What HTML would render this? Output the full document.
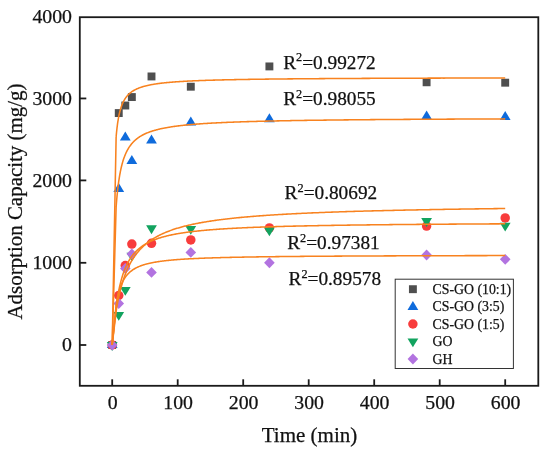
<!DOCTYPE html>
<html><head><meta charset="utf-8"><title>Adsorption kinetics</title>
<style>html,body{margin:0;padding:0;background:#fff}</style></head>
<body>
<svg width="550" height="455" viewBox="0 0 550 455" style="display:block">
<rect width="550" height="455" fill="#fff"/>
<rect x="108.25" y="341.05" width="7.9" height="7.9" fill="#4f4f4f"/>
<rect x="114.80" y="109.12" width="7.9" height="7.9" fill="#4f4f4f"/>
<rect x="121.35" y="101.56" width="7.9" height="7.9" fill="#4f4f4f"/>
<rect x="127.90" y="93.11" width="7.9" height="7.9" fill="#4f4f4f"/>
<rect x="147.55" y="72.50" width="7.9" height="7.9" fill="#4f4f4f"/>
<rect x="186.85" y="82.76" width="7.9" height="7.9" fill="#4f4f4f"/>
<rect x="265.45" y="62.48" width="7.9" height="7.9" fill="#4f4f4f"/>
<rect x="422.65" y="78.33" width="7.9" height="7.9" fill="#4f4f4f"/>
<rect x="501.25" y="78.74" width="7.9" height="7.9" fill="#4f4f4f"/>
<polygon points="112.20,339.02 117.60,348.02 106.80,348.02" fill="#0f6bdc"/>
<polygon points="118.75,183.03 124.15,192.03 113.35,192.03" fill="#0f6bdc"/>
<polygon points="125.30,131.56 130.70,140.56 119.90,140.56" fill="#0f6bdc"/>
<polygon points="131.85,154.95 137.25,163.95 126.45,163.95" fill="#0f6bdc"/>
<polygon points="151.50,134.59 156.90,143.59 146.10,143.59" fill="#0f6bdc"/>
<polygon points="190.80,116.45 196.20,125.45 185.40,125.45" fill="#0f6bdc"/>
<polygon points="269.40,113.25 274.80,122.25 264.00,122.25" fill="#0f6bdc"/>
<polygon points="426.60,110.62 432.00,119.62 421.20,119.62" fill="#0f6bdc"/>
<polygon points="505.20,111.03 510.60,120.03 499.80,120.03" fill="#0f6bdc"/>
<circle cx="112.20" cy="345.00" r="4.75" fill="#f83c3c"/>
<circle cx="118.75" cy="295.49" r="4.75" fill="#f83c3c"/>
<circle cx="125.30" cy="265.61" r="4.75" fill="#f83c3c"/>
<circle cx="131.85" cy="244.10" r="4.75" fill="#f83c3c"/>
<circle cx="151.50" cy="243.36" r="4.75" fill="#f83c3c"/>
<circle cx="190.80" cy="239.91" r="4.75" fill="#f83c3c"/>
<circle cx="269.40" cy="227.93" r="4.75" fill="#f83c3c"/>
<circle cx="426.60" cy="226.04" r="4.75" fill="#f83c3c"/>
<circle cx="505.20" cy="217.91" r="4.75" fill="#f83c3c"/>
<polygon points="112.20,350.88 117.60,342.08 106.80,342.08" fill="#12a35f"/>
<polygon points="118.75,320.83 124.15,312.03 113.35,312.03" fill="#12a35f"/>
<polygon points="125.30,295.71 130.70,286.91 119.90,286.91" fill="#12a35f"/>
<polygon points="131.85,261.55 137.25,252.75 126.45,252.75" fill="#12a35f"/>
<polygon points="151.50,234.13 156.90,225.33 146.10,225.33" fill="#12a35f"/>
<polygon points="190.80,234.71 196.20,225.91 185.40,225.91" fill="#12a35f"/>
<polygon points="269.40,236.18 274.80,227.38 264.00,227.38" fill="#12a35f"/>
<polygon points="426.60,226.91 432.00,218.11 421.20,218.11" fill="#12a35f"/>
<polygon points="505.20,231.50 510.60,222.70 499.80,222.70" fill="#12a35f"/>
<polygon points="112.20,339.55 117.50,345.00 112.20,350.45 106.90,345.00" fill="#b273e0"/>
<polygon points="118.75,298.09 124.05,303.54 118.75,308.99 113.45,303.54" fill="#b273e0"/>
<polygon points="125.30,263.03 130.60,268.48 125.30,273.93 120.00,268.48" fill="#b273e0"/>
<polygon points="131.85,248.58 137.15,254.03 131.85,259.48 126.55,254.03" fill="#b273e0"/>
<polygon points="151.50,266.97 156.80,272.42 151.50,277.87 146.20,272.42" fill="#b273e0"/>
<polygon points="190.80,246.94 196.10,252.39 190.80,257.84 185.50,252.39" fill="#b273e0"/>
<polygon points="269.40,257.37 274.70,262.82 269.40,268.27 264.10,262.82" fill="#b273e0"/>
<polygon points="426.60,249.57 431.90,255.02 426.60,260.47 421.30,255.02" fill="#b273e0"/>
<polygon points="505.20,253.92 510.50,259.37 505.20,264.82 499.90,259.37" fill="#b273e0"/>
<polyline points="112.20,345.00 116.13,136.86 116.13,136.85 116.13,136.82 116.14,136.76 116.15,136.68 116.16,136.56 116.17,136.41 116.18,136.24 116.20,136.03 116.22,135.79 116.25,135.52 116.27,135.21 116.30,134.88 116.34,134.51 116.37,134.11 116.41,133.69 116.46,133.23 116.50,132.75 116.55,132.24 116.61,131.71 116.66,131.16 116.72,130.58 116.79,129.98 116.86,129.36 116.93,128.73 117.00,128.07 117.08,127.41 117.16,126.73 117.25,126.04 117.34,125.34 117.43,124.63 117.53,123.91 117.63,123.19 117.74,122.46 117.85,121.73 117.96,121.00 118.08,120.27 118.20,119.54 118.32,118.81 118.45,118.08 118.58,117.36 118.72,116.64 118.86,115.92 119.01,115.21 119.16,114.51 119.31,113.82 119.47,113.13 119.63,112.45 119.80,111.78 119.97,111.12 120.14,110.46 120.32,109.82 120.50,109.19 120.69,108.57 120.88,107.95 121.08,107.35 121.28,106.76 121.48,106.18 121.69,105.61 121.90,105.05 122.12,104.50 122.34,103.96 122.57,103.44 122.80,102.92 123.03,102.42 123.27,101.92 123.52,101.44 123.77,100.96 124.02,100.50 124.28,100.04 124.54,99.60 124.80,99.16 125.08,98.74 125.35,98.32 125.63,97.91 125.92,97.52 126.21,97.13 126.50,96.75 126.80,96.38 127.10,96.01 127.41,95.66 127.72,95.31 128.04,94.97 128.36,94.64 128.69,94.32 129.02,94.00 129.35,93.69 129.70,93.39 130.04,93.10 130.39,92.81 130.75,92.53 131.11,92.25 131.47,91.98 131.84,91.72 132.21,91.46 132.59,91.21 132.98,90.97 133.36,90.73 133.76,90.49 134.16,90.26 134.56,90.04 134.97,89.82 135.38,89.60 135.80,89.39 136.22,89.19 136.65,88.99 137.08,88.79 137.52,88.60 137.96,88.41 138.41,88.23 138.86,88.05 139.31,87.87 139.78,87.70 140.24,87.53 140.72,87.37 141.19,87.21 141.67,87.05 142.16,86.89 142.65,86.74 143.15,86.60 143.65,86.45 144.16,86.31 144.67,86.17 145.19,86.03 145.71,85.90 146.24,85.77 146.77,85.64 147.31,85.52 147.85,85.39 148.40,85.27 148.95,85.16 149.51,85.04 150.07,84.93 150.64,84.81 151.22,84.71 151.79,84.60 152.38,84.49 152.97,84.39 153.56,84.29 154.16,84.19 154.76,84.10 155.37,84.00 155.99,83.91 156.61,83.82 157.23,83.73 157.87,83.64 158.50,83.55 159.14,83.47 159.79,83.38 160.44,83.30 161.10,83.22 161.76,83.14 162.43,83.07 163.10,82.99 163.78,82.91 164.46,82.84 165.15,82.77 165.84,82.70 166.54,82.63 167.25,82.56 167.96,82.49 168.67,82.43 169.39,82.36 170.12,82.30 170.85,82.24 171.59,82.18 172.33,82.12 173.08,82.06 173.83,82.00 174.59,81.94 175.35,81.88 176.12,81.83 176.90,81.77 177.68,81.72 178.46,81.67 179.25,81.62 180.05,81.56 180.85,81.51 181.66,81.46 182.47,81.42 183.29,81.37 184.11,81.32 184.94,81.27 185.77,81.23 186.61,81.18 187.46,81.14 188.31,81.10 189.17,81.05 190.03,81.01 190.90,80.97 191.77,80.93 192.65,80.89 193.53,80.85 194.42,80.81 195.32,80.77 196.22,80.73 197.13,80.70 198.04,80.66 198.95,80.62 199.88,80.59 200.81,80.55 201.74,80.52 202.68,80.48 203.63,80.45 204.58,80.42 205.53,80.38 206.50,80.35 207.46,80.32 208.44,80.29 209.42,80.26 210.40,80.23 211.39,80.20 212.39,80.17 213.39,80.14 214.40,80.11 215.41,80.08 216.43,80.05 217.45,80.03 218.48,80.00 219.52,79.97 220.56,79.95 221.61,79.92 222.66,79.89 223.72,79.87 224.78,79.84 225.85,79.82 226.93,79.79 228.01,79.77 229.10,79.75 230.19,79.72 231.29,79.70 232.39,79.68 233.50,79.65 234.62,79.63 235.74,79.61 236.87,79.59 238.00,79.57 239.14,79.55 240.29,79.52 241.44,79.50 242.59,79.48 243.75,79.46 244.92,79.44 246.10,79.42 247.28,79.41 248.46,79.39 249.65,79.37 250.85,79.35 252.05,79.33 253.26,79.31 254.48,79.29 255.70,79.28 256.92,79.26 258.15,79.24 259.39,79.22 260.64,79.21 261.89,79.19 263.14,79.17 264.40,79.16 265.67,79.14 266.94,79.13 268.22,79.11 269.51,79.09 270.80,79.08 272.09,79.06 273.40,79.05 274.71,79.03 276.02,79.02 277.34,79.00 278.67,78.99 280.00,78.98 281.34,78.96 282.68,78.95 284.03,78.93 285.39,78.92 286.75,78.91 288.12,78.89 289.49,78.88 290.87,78.87 292.26,78.86 293.65,78.84 295.05,78.83 296.45,78.82 297.86,78.81 299.28,78.79 300.70,78.78 302.12,78.77 303.56,78.76 305.00,78.75 306.44,78.73 307.90,78.72 309.35,78.71 310.82,78.70 312.29,78.69 313.76,78.68 315.25,78.67 316.73,78.66 318.23,78.65 319.73,78.64 321.23,78.63 322.75,78.62 324.26,78.61 325.79,78.59 327.32,78.59 328.85,78.58 330.40,78.57 331.95,78.56 333.50,78.55 335.06,78.54 336.63,78.53 338.20,78.52 339.78,78.51 341.36,78.50 342.96,78.49 344.55,78.48 346.16,78.47 347.77,78.46 349.38,78.46 351.00,78.45 352.63,78.44 354.27,78.43 355.91,78.42 357.55,78.41 359.21,78.41 360.86,78.40 362.53,78.39 364.20,78.38 365.88,78.37 367.56,78.37 369.25,78.36 370.95,78.35 372.65,78.34 374.36,78.34 376.07,78.33 377.79,78.32 379.52,78.31 381.25,78.31 382.99,78.30 384.73,78.29 386.49,78.29 388.24,78.28 390.01,78.27 391.78,78.26 393.55,78.26 395.34,78.25 397.12,78.24 398.92,78.24 400.72,78.23 402.53,78.23 404.34,78.22 406.16,78.21 407.99,78.21 409.82,78.20 411.66,78.19 413.50,78.19 415.36,78.18 417.21,78.18 419.08,78.17 420.95,78.16 422.82,78.16 424.71,78.15 426.59,78.15 428.49,78.14 430.39,78.13 432.30,78.13 434.21,78.12 436.13,78.12 438.06,78.11 439.99,78.11 441.93,78.10 443.88,78.10 445.83,78.09 447.79,78.09 449.75,78.08 451.72,78.08 453.70,78.07 455.68,78.07 457.67,78.06 459.67,78.06 461.67,78.05 463.68,78.05 465.70,78.04 467.72,78.04 469.75,78.03 471.78,78.03 473.82,78.02 475.87,78.02 477.92,78.01 479.98,78.01 482.05,78.00 484.12,78.00 486.20,77.99 488.29,77.99 490.38,77.99 492.48,77.98 494.58,77.98 496.69,77.97 498.81,77.97 500.93,77.96 503.06,77.96 505.20,77.96" fill="none" stroke="#f8821f" stroke-width="1.55" stroke-linejoin="round"/>
<polyline points="112.20,345.00 116.13,207.07 116.13,207.06 116.13,207.03 116.14,206.96 116.15,206.86 116.16,206.72 116.17,206.55 116.18,206.34 116.20,206.10 116.22,205.81 116.25,205.49 116.27,205.13 116.30,204.73 116.34,204.30 116.37,203.82 116.41,203.31 116.46,202.77 116.50,202.19 116.55,201.57 116.61,200.93 116.66,200.25 116.72,199.54 116.79,198.80 116.86,198.04 116.93,197.25 117.00,196.44 117.08,195.60 117.16,194.74 117.25,193.87 117.34,192.97 117.43,192.07 117.53,191.14 117.63,190.21 117.74,189.26 117.85,188.30 117.96,187.34 118.08,186.37 118.20,185.39 118.32,184.42 118.45,183.43 118.58,182.45 118.72,181.47 118.86,180.49 119.01,179.51 119.16,178.54 119.31,177.57 119.47,176.60 119.63,175.64 119.80,174.69 119.97,173.75 120.14,172.81 120.32,171.88 120.50,170.97 120.69,170.06 120.88,169.16 121.08,168.28 121.28,167.40 121.48,166.54 121.69,165.69 121.90,164.85 122.12,164.02 122.34,163.21 122.57,162.41 122.80,161.62 123.03,160.84 123.27,160.08 123.52,159.33 123.77,158.59 124.02,157.87 124.28,157.15 124.54,156.45 124.80,155.77 125.08,155.09 125.35,154.43 125.63,153.78 125.92,153.15 126.21,152.52 126.50,151.91 126.80,151.31 127.10,150.72 127.41,150.15 127.72,149.58 128.04,149.02 128.36,148.48 128.69,147.95 129.02,147.43 129.35,146.92 129.70,146.41 130.04,145.92 130.39,145.44 130.75,144.97 131.11,144.51 131.47,144.06 131.84,143.61 132.21,143.18 132.59,142.75 132.98,142.34 133.36,141.93 133.76,141.53 134.16,141.14 134.56,140.75 134.97,140.38 135.38,140.01 135.80,139.65 136.22,139.30 136.65,138.95 137.08,138.61 137.52,138.28 137.96,137.95 138.41,137.63 138.86,137.32 139.31,137.01 139.78,136.71 140.24,136.42 140.72,136.13 141.19,135.85 141.67,135.57 142.16,135.30 142.65,135.03 143.15,134.77 143.65,134.51 144.16,134.26 144.67,134.02 145.19,133.77 145.71,133.54 146.24,133.31 146.77,133.08 147.31,132.85 147.85,132.64 148.40,132.42 148.95,132.21 149.51,132.00 150.07,131.80 150.64,131.60 151.22,131.40 151.79,131.21 152.38,131.02 152.97,130.84 153.56,130.66 154.16,130.48 154.76,130.30 155.37,130.13 155.99,129.96 156.61,129.80 157.23,129.63 157.87,129.48 158.50,129.32 159.14,129.16 159.79,129.01 160.44,128.86 161.10,128.72 161.76,128.57 162.43,128.43 163.10,128.29 163.78,128.16 164.46,128.02 165.15,127.89 165.84,127.76 166.54,127.64 167.25,127.51 167.96,127.39 168.67,127.27 169.39,127.15 170.12,127.03 170.85,126.92 171.59,126.80 172.33,126.69 173.08,126.58 173.83,126.48 174.59,126.37 175.35,126.27 176.12,126.16 176.90,126.06 177.68,125.96 178.46,125.87 179.25,125.77 180.05,125.68 180.85,125.58 181.66,125.49 182.47,125.40 183.29,125.31 184.11,125.23 184.94,125.14 185.77,125.06 186.61,124.97 187.46,124.89 188.31,124.81 189.17,124.73 190.03,124.65 190.90,124.57 191.77,124.50 192.65,124.42 193.53,124.35 194.42,124.28 195.32,124.20 196.22,124.13 197.13,124.06 198.04,124.00 198.95,123.93 199.88,123.86 200.81,123.80 201.74,123.73 202.68,123.67 203.63,123.60 204.58,123.54 205.53,123.48 206.50,123.42 207.46,123.36 208.44,123.30 209.42,123.25 210.40,123.19 211.39,123.13 212.39,123.08 213.39,123.02 214.40,122.97 215.41,122.92 216.43,122.86 217.45,122.81 218.48,122.76 219.52,122.71 220.56,122.66 221.61,122.61 222.66,122.56 223.72,122.52 224.78,122.47 225.85,122.42 226.93,122.38 228.01,122.33 229.10,122.29 230.19,122.24 231.29,122.20 232.39,122.15 233.50,122.11 234.62,122.07 235.74,122.03 236.87,121.99 238.00,121.95 239.14,121.91 240.29,121.87 241.44,121.83 242.59,121.79 243.75,121.75 244.92,121.72 246.10,121.68 247.28,121.64 248.46,121.61 249.65,121.57 250.85,121.54 252.05,121.50 253.26,121.47 254.48,121.43 255.70,121.40 256.92,121.37 258.15,121.33 259.39,121.30 260.64,121.27 261.89,121.24 263.14,121.21 264.40,121.18 265.67,121.14 266.94,121.11 268.22,121.08 269.51,121.06 270.80,121.03 272.09,121.00 273.40,120.97 274.71,120.94 276.02,120.91 277.34,120.89 278.67,120.86 280.00,120.83 281.34,120.80 282.68,120.78 284.03,120.75 285.39,120.73 286.75,120.70 288.12,120.68 289.49,120.65 290.87,120.63 292.26,120.60 293.65,120.58 295.05,120.55 296.45,120.53 297.86,120.51 299.28,120.48 300.70,120.46 302.12,120.44 303.56,120.42 305.00,120.39 306.44,120.37 307.90,120.35 309.35,120.33 310.82,120.31 312.29,120.29 313.76,120.27 315.25,120.25 316.73,120.23 318.23,120.21 319.73,120.19 321.23,120.17 322.75,120.15 324.26,120.13 325.79,120.11 327.32,120.09 328.85,120.07 330.40,120.05 331.95,120.03 333.50,120.02 335.06,120.00 336.63,119.98 338.20,119.96 339.78,119.94 341.36,119.93 342.96,119.91 344.55,119.89 346.16,119.88 347.77,119.86 349.38,119.84 351.00,119.83 352.63,119.81 354.27,119.80 355.91,119.78 357.55,119.76 359.21,119.75 360.86,119.73 362.53,119.72 364.20,119.70 365.88,119.69 367.56,119.67 369.25,119.66 370.95,119.64 372.65,119.63 374.36,119.61 376.07,119.60 377.79,119.59 379.52,119.57 381.25,119.56 382.99,119.55 384.73,119.53 386.49,119.52 388.24,119.51 390.01,119.49 391.78,119.48 393.55,119.47 395.34,119.45 397.12,119.44 398.92,119.43 400.72,119.42 402.53,119.40 404.34,119.39 406.16,119.38 407.99,119.37 409.82,119.36 411.66,119.34 413.50,119.33 415.36,119.32 417.21,119.31 419.08,119.30 420.95,119.29 422.82,119.28 424.71,119.26 426.59,119.25 428.49,119.24 430.39,119.23 432.30,119.22 434.21,119.21 436.13,119.20 438.06,119.19 439.99,119.18 441.93,119.17 443.88,119.16 445.83,119.15 447.79,119.14 449.75,119.13 451.72,119.12 453.70,119.11 455.68,119.10 457.67,119.09 459.67,119.08 461.67,119.07 463.68,119.06 465.70,119.05 467.72,119.04 469.75,119.03 471.78,119.02 473.82,119.02 475.87,119.01 477.92,119.00 479.98,118.99 482.05,118.98 484.12,118.97 486.20,118.96 488.29,118.95 490.38,118.95 492.48,118.94 494.58,118.93 496.69,118.92 498.81,118.91 500.93,118.90 503.06,118.90 505.20,118.89" fill="none" stroke="#f8821f" stroke-width="1.55" stroke-linejoin="round"/>
<polyline points="112.20,345.00 116.13,311.36 116.13,311.36 116.13,311.34 116.14,311.31 116.15,311.26 116.16,311.20 116.17,311.12 116.18,311.03 116.20,310.91 116.22,310.78 116.25,310.63 116.27,310.46 116.30,310.28 116.34,310.07 116.37,309.85 116.41,309.60 116.46,309.34 116.50,309.06 116.55,308.76 116.61,308.44 116.66,308.10 116.72,307.74 116.79,307.37 116.86,306.97 116.93,306.56 117.00,306.14 117.08,305.69 117.16,305.23 117.25,304.75 117.34,304.26 117.43,303.75 117.53,303.23 117.63,302.69 117.74,302.14 117.85,301.57 117.96,300.99 118.08,300.40 118.20,299.80 118.32,299.18 118.45,298.56 118.58,297.92 118.72,297.27 118.86,296.61 119.01,295.95 119.16,295.27 119.31,294.59 119.47,293.90 119.63,293.20 119.80,292.50 119.97,291.79 120.14,291.08 120.32,290.36 120.50,289.63 120.69,288.90 120.88,288.17 121.08,287.44 121.28,286.70 121.48,285.96 121.69,285.22 121.90,284.48 122.12,283.73 122.34,282.99 122.57,282.25 122.80,281.50 123.03,280.76 123.27,280.02 123.52,279.27 123.77,278.53 124.02,277.80 124.28,277.06 124.54,276.33 124.80,275.60 125.08,274.87 125.35,274.14 125.63,273.42 125.92,272.70 126.21,271.99 126.50,271.28 126.80,270.57 127.10,269.87 127.41,269.18 127.72,268.48 128.04,267.80 128.36,267.11 128.69,266.44 129.02,265.77 129.35,265.10 129.70,264.44 130.04,263.78 130.39,263.13 130.75,262.49 131.11,261.85 131.47,261.22 131.84,260.59 132.21,259.97 132.59,259.36 132.98,258.75 133.36,258.15 133.76,257.55 134.16,256.96 134.56,256.37 134.97,255.80 135.38,255.22 135.80,254.66 136.22,254.10 136.65,253.54 137.08,253.00 137.52,252.46 137.96,251.92 138.41,251.39 138.86,250.87 139.31,250.35 139.78,249.84 140.24,249.34 140.72,248.84 141.19,248.34 141.67,247.85 142.16,247.37 142.65,246.90 143.15,246.43 143.65,245.96 144.16,245.50 144.67,245.05 145.19,244.60 145.71,244.16 146.24,243.72 146.77,243.29 147.31,242.87 147.85,242.45 148.40,242.03 148.95,241.62 149.51,241.22 150.07,240.82 150.64,240.42 151.22,240.03 151.79,239.65 152.38,239.26 152.97,238.89 153.56,238.52 154.16,238.15 154.76,237.79 155.37,237.43 155.99,237.08 156.61,236.73 157.23,236.39 157.87,236.05 158.50,235.72 159.14,235.39 159.79,235.06 160.44,234.74 161.10,234.42 161.76,234.11 162.43,233.80 163.10,233.49 163.78,233.19 164.46,232.89 165.15,232.60 165.84,232.31 166.54,232.02 167.25,231.74 167.96,231.46 168.67,231.18 169.39,230.91 170.12,230.64 170.85,230.37 171.59,230.11 172.33,229.85 173.08,229.60 173.83,229.34 174.59,229.09 175.35,228.85 176.12,228.60 176.90,228.36 177.68,228.13 178.46,227.89 179.25,227.66 180.05,227.43 180.85,227.21 181.66,226.98 182.47,226.76 183.29,226.55 184.11,226.33 184.94,226.12 185.77,225.91 186.61,225.70 187.46,225.50 188.31,225.30 189.17,225.10 190.03,224.90 190.90,224.70 191.77,224.51 192.65,224.32 193.53,224.13 194.42,223.95 195.32,223.77 196.22,223.58 197.13,223.41 198.04,223.23 198.95,223.05 199.88,222.88 200.81,222.71 201.74,222.54 202.68,222.38 203.63,222.21 204.58,222.05 205.53,221.89 206.50,221.73 207.46,221.57 208.44,221.42 209.42,221.26 210.40,221.11 211.39,220.96 212.39,220.82 213.39,220.67 214.40,220.52 215.41,220.38 216.43,220.24 217.45,220.10 218.48,219.96 219.52,219.83 220.56,219.69 221.61,219.56 222.66,219.42 223.72,219.29 224.78,219.17 225.85,219.04 226.93,218.91 228.01,218.79 229.10,218.66 230.19,218.54 231.29,218.42 232.39,218.30 233.50,218.18 234.62,218.07 235.74,217.95 236.87,217.84 238.00,217.72 239.14,217.61 240.29,217.50 241.44,217.39 242.59,217.28 243.75,217.18 244.92,217.07 246.10,216.97 247.28,216.86 248.46,216.76 249.65,216.66 250.85,216.56 252.05,216.46 253.26,216.36 254.48,216.26 255.70,216.17 256.92,216.07 258.15,215.98 259.39,215.88 260.64,215.79 261.89,215.70 263.14,215.61 264.40,215.52 265.67,215.43 266.94,215.34 268.22,215.26 269.51,215.17 270.80,215.09 272.09,215.00 273.40,214.92 274.71,214.84 276.02,214.76 277.34,214.67 278.67,214.59 280.00,214.52 281.34,214.44 282.68,214.36 284.03,214.28 285.39,214.21 286.75,214.13 288.12,214.06 289.49,213.98 290.87,213.91 292.26,213.84 293.65,213.77 295.05,213.69 296.45,213.62 297.86,213.55 299.28,213.49 300.70,213.42 302.12,213.35 303.56,213.28 305.00,213.22 306.44,213.15 307.90,213.09 309.35,213.02 310.82,212.96 312.29,212.89 313.76,212.83 315.25,212.77 316.73,212.71 318.23,212.65 319.73,212.59 321.23,212.53 322.75,212.47 324.26,212.41 325.79,212.35 327.32,212.29 328.85,212.23 330.40,212.18 331.95,212.12 333.50,212.07 335.06,212.01 336.63,211.96 338.20,211.90 339.78,211.85 341.36,211.80 342.96,211.74 344.55,211.69 346.16,211.64 347.77,211.59 349.38,211.54 351.00,211.49 352.63,211.44 354.27,211.39 355.91,211.34 357.55,211.29 359.21,211.24 360.86,211.19 362.53,211.15 364.20,211.10 365.88,211.05 367.56,211.01 369.25,210.96 370.95,210.92 372.65,210.87 374.36,210.83 376.07,210.78 377.79,210.74 379.52,210.69 381.25,210.65 382.99,210.61 384.73,210.57 386.49,210.52 388.24,210.48 390.01,210.44 391.78,210.40 393.55,210.36 395.34,210.32 397.12,210.28 398.92,210.24 400.72,210.20 402.53,210.16 404.34,210.12 406.16,210.08 407.99,210.05 409.82,210.01 411.66,209.97 413.50,209.93 415.36,209.90 417.21,209.86 419.08,209.83 420.95,209.79 422.82,209.75 424.71,209.72 426.59,209.68 428.49,209.65 430.39,209.61 432.30,209.58 434.21,209.55 436.13,209.51 438.06,209.48 439.99,209.45 441.93,209.41 443.88,209.38 445.83,209.35 447.79,209.32 449.75,209.28 451.72,209.25 453.70,209.22 455.68,209.19 457.67,209.16 459.67,209.13 461.67,209.10 463.68,209.07 465.70,209.04 467.72,209.01 469.75,208.98 471.78,208.95 473.82,208.92 475.87,208.89 477.92,208.86 479.98,208.83 482.05,208.81 484.12,208.78 486.20,208.75 488.29,208.72 490.38,208.69 492.48,208.67 494.58,208.64 496.69,208.61 498.81,208.59 500.93,208.56 503.06,208.53 505.20,208.51" fill="none" stroke="#f8821f" stroke-width="1.55" stroke-linejoin="round"/>
<polyline points="112.20,345.00 116.13,306.47 116.13,306.46 116.13,306.44 116.14,306.41 116.15,306.36 116.16,306.28 116.17,306.19 116.18,306.08 116.20,305.95 116.22,305.80 116.25,305.63 116.27,305.44 116.30,305.22 116.34,304.99 116.37,304.73 116.41,304.45 116.46,304.15 116.50,303.83 116.55,303.49 116.61,303.12 116.66,302.74 116.72,302.34 116.79,301.91 116.86,301.47 116.93,301.01 117.00,300.52 117.08,300.03 117.16,299.51 117.25,298.98 117.34,298.43 117.43,297.86 117.53,297.28 117.63,296.69 117.74,296.08 117.85,295.46 117.96,294.82 118.08,294.18 118.20,293.52 118.32,292.85 118.45,292.18 118.58,291.49 118.72,290.80 118.86,290.10 119.01,289.39 119.16,288.67 119.31,287.95 119.47,287.23 119.63,286.50 119.80,285.77 119.97,285.04 120.14,284.30 120.32,283.56 120.50,282.82 120.69,282.09 120.88,281.35 121.08,280.61 121.28,279.87 121.48,279.14 121.69,278.40 121.90,277.67 122.12,276.94 122.34,276.22 122.57,275.50 122.80,274.78 123.03,274.07 123.27,273.36 123.52,272.66 123.77,271.96 124.02,271.27 124.28,270.59 124.54,269.91 124.80,269.23 125.08,268.57 125.35,267.91 125.63,267.26 125.92,266.61 126.21,265.97 126.50,265.34 126.80,264.72 127.10,264.10 127.41,263.49 127.72,262.89 128.04,262.30 128.36,261.71 128.69,261.13 129.02,260.56 129.35,260.00 129.70,259.44 130.04,258.90 130.39,258.36 130.75,257.82 131.11,257.30 131.47,256.78 131.84,256.28 132.21,255.77 132.59,255.28 132.98,254.79 133.36,254.32 133.76,253.84 134.16,253.38 134.56,252.92 134.97,252.47 135.38,252.03 135.80,251.60 136.22,251.17 136.65,250.75 137.08,250.33 137.52,249.92 137.96,249.52 138.41,249.13 138.86,248.74 139.31,248.36 139.78,247.98 140.24,247.61 140.72,247.25 141.19,246.89 141.67,246.54 142.16,246.19 142.65,245.85 143.15,245.52 143.65,245.19 144.16,244.87 144.67,244.55 145.19,244.24 145.71,243.93 146.24,243.63 146.77,243.33 147.31,243.04 147.85,242.75 148.40,242.47 148.95,242.19 149.51,241.92 150.07,241.65 150.64,241.38 151.22,241.12 151.79,240.87 152.38,240.62 152.97,240.37 153.56,240.13 154.16,239.89 154.76,239.65 155.37,239.42 155.99,239.19 156.61,238.97 157.23,238.75 157.87,238.54 158.50,238.32 159.14,238.11 159.79,237.91 160.44,237.70 161.10,237.51 161.76,237.31 162.43,237.12 163.10,236.93 163.78,236.74 164.46,236.56 165.15,236.38 165.84,236.20 166.54,236.02 167.25,235.85 167.96,235.68 168.67,235.52 169.39,235.35 170.12,235.19 170.85,235.03 171.59,234.88 172.33,234.72 173.08,234.57 173.83,234.42 174.59,234.27 175.35,234.13 176.12,233.99 176.90,233.85 177.68,233.71 178.46,233.57 179.25,233.44 180.05,233.31 180.85,233.18 181.66,233.05 182.47,232.92 183.29,232.80 184.11,232.68 184.94,232.56 185.77,232.44 186.61,232.32 187.46,232.21 188.31,232.09 189.17,231.98 190.03,231.87 190.90,231.76 191.77,231.66 192.65,231.55 193.53,231.45 194.42,231.35 195.32,231.24 196.22,231.15 197.13,231.05 198.04,230.95 198.95,230.86 199.88,230.76 200.81,230.67 201.74,230.58 202.68,230.49 203.63,230.40 204.58,230.31 205.53,230.23 206.50,230.14 207.46,230.06 208.44,229.98 209.42,229.89 210.40,229.81 211.39,229.74 212.39,229.66 213.39,229.58 214.40,229.50 215.41,229.43 216.43,229.36 217.45,229.28 218.48,229.21 219.52,229.14 220.56,229.07 221.61,229.00 222.66,228.93 223.72,228.86 224.78,228.80 225.85,228.73 226.93,228.67 228.01,228.60 229.10,228.54 230.19,228.48 231.29,228.42 232.39,228.36 233.50,228.30 234.62,228.24 235.74,228.18 236.87,228.12 238.00,228.07 239.14,228.01 240.29,227.95 241.44,227.90 242.59,227.85 243.75,227.79 244.92,227.74 246.10,227.69 247.28,227.64 248.46,227.59 249.65,227.53 250.85,227.49 252.05,227.44 253.26,227.39 254.48,227.34 255.70,227.29 256.92,227.25 258.15,227.20 259.39,227.16 260.64,227.11 261.89,227.07 263.14,227.02 264.40,226.98 265.67,226.94 266.94,226.89 268.22,226.85 269.51,226.81 270.80,226.77 272.09,226.73 273.40,226.69 274.71,226.65 276.02,226.61 277.34,226.57 278.67,226.53 280.00,226.50 281.34,226.46 282.68,226.42 284.03,226.39 285.39,226.35 286.75,226.31 288.12,226.28 289.49,226.24 290.87,226.21 292.26,226.18 293.65,226.14 295.05,226.11 296.45,226.08 297.86,226.04 299.28,226.01 300.70,225.98 302.12,225.95 303.56,225.92 305.00,225.89 306.44,225.86 307.90,225.83 309.35,225.80 310.82,225.77 312.29,225.74 313.76,225.71 315.25,225.68 316.73,225.65 318.23,225.62 319.73,225.60 321.23,225.57 322.75,225.54 324.26,225.51 325.79,225.49 327.32,225.46 328.85,225.44 330.40,225.41 331.95,225.38 333.50,225.36 335.06,225.33 336.63,225.31 338.20,225.29 339.78,225.26 341.36,225.24 342.96,225.21 344.55,225.19 346.16,225.17 347.77,225.14 349.38,225.12 351.00,225.10 352.63,225.08 354.27,225.05 355.91,225.03 357.55,225.01 359.21,224.99 360.86,224.97 362.53,224.95 364.20,224.93 365.88,224.91 367.56,224.89 369.25,224.86 370.95,224.84 372.65,224.82 374.36,224.81 376.07,224.79 377.79,224.77 379.52,224.75 381.25,224.73 382.99,224.71 384.73,224.69 386.49,224.67 388.24,224.65 390.01,224.64 391.78,224.62 393.55,224.60 395.34,224.58 397.12,224.57 398.92,224.55 400.72,224.53 402.53,224.52 404.34,224.50 406.16,224.48 407.99,224.47 409.82,224.45 411.66,224.43 413.50,224.42 415.36,224.40 417.21,224.39 419.08,224.37 420.95,224.35 422.82,224.34 424.71,224.32 426.59,224.31 428.49,224.29 430.39,224.28 432.30,224.27 434.21,224.25 436.13,224.24 438.06,224.22 439.99,224.21 441.93,224.19 443.88,224.18 445.83,224.17 447.79,224.15 449.75,224.14 451.72,224.13 453.70,224.11 455.68,224.10 457.67,224.09 459.67,224.07 461.67,224.06 463.68,224.05 465.70,224.04 467.72,224.02 469.75,224.01 471.78,224.00 473.82,223.99 475.87,223.97 477.92,223.96 479.98,223.95 482.05,223.94 484.12,223.93 486.20,223.92 488.29,223.90 490.38,223.89 492.48,223.88 494.58,223.87 496.69,223.86 498.81,223.85 500.93,223.84 503.06,223.83 505.20,223.82" fill="none" stroke="#f8821f" stroke-width="1.55" stroke-linejoin="round"/>
<polyline points="112.20,345.00 116.13,305.13 116.13,305.13 116.13,305.11 116.14,305.08 116.15,305.04 116.16,304.98 116.17,304.90 116.18,304.80 116.20,304.69 116.22,304.56 116.25,304.41 116.27,304.24 116.30,304.06 116.34,303.86 116.37,303.64 116.41,303.40 116.46,303.15 116.50,302.87 116.55,302.58 116.61,302.28 116.66,301.96 116.72,301.62 116.79,301.27 116.86,300.90 116.93,300.52 117.00,300.12 117.08,299.71 117.16,299.29 117.25,298.86 117.34,298.42 117.43,297.97 117.53,297.50 117.63,297.03 117.74,296.55 117.85,296.07 117.96,295.57 118.08,295.07 118.20,294.57 118.32,294.06 118.45,293.55 118.58,293.03 118.72,292.51 118.86,291.99 119.01,291.46 119.16,290.94 119.31,290.42 119.47,289.89 119.63,289.37 119.80,288.85 119.97,288.32 120.14,287.81 120.32,287.29 120.50,286.78 120.69,286.27 120.88,285.76 121.08,285.26 121.28,284.76 121.48,284.27 121.69,283.78 121.90,283.30 122.12,282.82 122.34,282.34 122.57,281.88 122.80,281.42 123.03,280.96 123.27,280.51 123.52,280.07 123.77,279.63 124.02,279.20 124.28,278.78 124.54,278.36 124.80,277.95 125.08,277.54 125.35,277.15 125.63,276.76 125.92,276.37 126.21,275.99 126.50,275.62 126.80,275.26 127.10,274.90 127.41,274.54 127.72,274.20 128.04,273.86 128.36,273.52 128.69,273.20 129.02,272.88 129.35,272.56 129.70,272.25 130.04,271.95 130.39,271.65 130.75,271.36 131.11,271.07 131.47,270.79 131.84,270.52 132.21,270.25 132.59,269.98 132.98,269.72 133.36,269.47 133.76,269.22 134.16,268.98 134.56,268.74 134.97,268.50 135.38,268.27 135.80,268.05 136.22,267.83 136.65,267.61 137.08,267.40 137.52,267.19 137.96,266.99 138.41,266.79 138.86,266.59 139.31,266.40 139.78,266.22 140.24,266.03 140.72,265.85 141.19,265.67 141.67,265.50 142.16,265.33 142.65,265.17 143.15,265.00 143.65,264.84 144.16,264.69 144.67,264.53 145.19,264.38 145.71,264.23 146.24,264.09 146.77,263.95 147.31,263.81 147.85,263.67 148.40,263.54 148.95,263.41 149.51,263.28 150.07,263.15 150.64,263.03 151.22,262.91 151.79,262.79 152.38,262.67 152.97,262.56 153.56,262.45 154.16,262.34 154.76,262.23 155.37,262.12 155.99,262.02 156.61,261.91 157.23,261.81 157.87,261.72 158.50,261.62 159.14,261.52 159.79,261.43 160.44,261.34 161.10,261.25 161.76,261.16 162.43,261.08 163.10,260.99 163.78,260.91 164.46,260.83 165.15,260.75 165.84,260.67 166.54,260.59 167.25,260.51 167.96,260.44 168.67,260.37 169.39,260.29 170.12,260.22 170.85,260.15 171.59,260.08 172.33,260.02 173.08,259.95 173.83,259.89 174.59,259.82 175.35,259.76 176.12,259.70 176.90,259.64 177.68,259.58 178.46,259.52 179.25,259.46 180.05,259.40 180.85,259.35 181.66,259.29 182.47,259.24 183.29,259.19 184.11,259.13 184.94,259.08 185.77,259.03 186.61,258.98 187.46,258.93 188.31,258.89 189.17,258.84 190.03,258.79 190.90,258.75 191.77,258.70 192.65,258.66 193.53,258.61 194.42,258.57 195.32,258.53 196.22,258.49 197.13,258.45 198.04,258.41 198.95,258.37 199.88,258.33 200.81,258.29 201.74,258.25 202.68,258.21 203.63,258.18 204.58,258.14 205.53,258.10 206.50,258.07 207.46,258.03 208.44,258.00 209.42,257.97 210.40,257.93 211.39,257.90 212.39,257.87 213.39,257.84 214.40,257.81 215.41,257.77 216.43,257.74 217.45,257.71 218.48,257.68 219.52,257.66 220.56,257.63 221.61,257.60 222.66,257.57 223.72,257.54 224.78,257.52 225.85,257.49 226.93,257.46 228.01,257.44 229.10,257.41 230.19,257.39 231.29,257.36 232.39,257.34 233.50,257.31 234.62,257.29 235.74,257.27 236.87,257.24 238.00,257.22 239.14,257.20 240.29,257.17 241.44,257.15 242.59,257.13 243.75,257.11 244.92,257.09 246.10,257.07 247.28,257.05 248.46,257.03 249.65,257.01 250.85,256.99 252.05,256.97 253.26,256.95 254.48,256.93 255.70,256.91 256.92,256.89 258.15,256.87 259.39,256.85 260.64,256.84 261.89,256.82 263.14,256.80 264.40,256.78 265.67,256.77 266.94,256.75 268.22,256.73 269.51,256.72 270.80,256.70 272.09,256.68 273.40,256.67 274.71,256.65 276.02,256.64 277.34,256.62 278.67,256.61 280.00,256.59 281.34,256.58 282.68,256.56 284.03,256.55 285.39,256.54 286.75,256.52 288.12,256.51 289.49,256.49 290.87,256.48 292.26,256.47 293.65,256.45 295.05,256.44 296.45,256.43 297.86,256.41 299.28,256.40 300.70,256.39 302.12,256.38 303.56,256.37 305.00,256.35 306.44,256.34 307.90,256.33 309.35,256.32 310.82,256.31 312.29,256.30 313.76,256.28 315.25,256.27 316.73,256.26 318.23,256.25 319.73,256.24 321.23,256.23 322.75,256.22 324.26,256.21 325.79,256.20 327.32,256.19 328.85,256.18 330.40,256.17 331.95,256.16 333.50,256.15 335.06,256.14 336.63,256.13 338.20,256.12 339.78,256.11 341.36,256.10 342.96,256.09 344.55,256.08 346.16,256.07 347.77,256.07 349.38,256.06 351.00,256.05 352.63,256.04 354.27,256.03 355.91,256.02 357.55,256.01 359.21,256.01 360.86,256.00 362.53,255.99 364.20,255.98 365.88,255.97 367.56,255.97 369.25,255.96 370.95,255.95 372.65,255.94 374.36,255.94 376.07,255.93 377.79,255.92 379.52,255.91 381.25,255.91 382.99,255.90 384.73,255.89 386.49,255.88 388.24,255.88 390.01,255.87 391.78,255.86 393.55,255.86 395.34,255.85 397.12,255.84 398.92,255.84 400.72,255.83 402.53,255.82 404.34,255.82 406.16,255.81 407.99,255.81 409.82,255.80 411.66,255.79 413.50,255.79 415.36,255.78 417.21,255.78 419.08,255.77 420.95,255.76 422.82,255.76 424.71,255.75 426.59,255.75 428.49,255.74 430.39,255.74 432.30,255.73 434.21,255.72 436.13,255.72 438.06,255.71 439.99,255.71 441.93,255.70 443.88,255.70 445.83,255.69 447.79,255.69 449.75,255.68 451.72,255.68 453.70,255.67 455.68,255.67 457.67,255.66 459.67,255.66 461.67,255.65 463.68,255.65 465.70,255.64 467.72,255.64 469.75,255.63 471.78,255.63 473.82,255.62 475.87,255.62 477.92,255.62 479.98,255.61 482.05,255.61 484.12,255.60 486.20,255.60 488.29,255.59 490.38,255.59 492.48,255.59 494.58,255.58 496.69,255.58 498.81,255.57 500.93,255.57 503.06,255.56 505.20,255.56" fill="none" stroke="#f8821f" stroke-width="1.55" stroke-linejoin="round"/>
<rect x="79.8" y="17.2" width="458.49999999999994" height="368.6" fill="none" stroke="#1a1a1a" stroke-width="1.8"/>
<line x1="112.20" y1="385.8" x2="112.20" y2="379.3" stroke="#1a1a1a" stroke-width="1.8"/>
<line x1="177.70" y1="385.8" x2="177.70" y2="379.3" stroke="#1a1a1a" stroke-width="1.8"/>
<line x1="243.20" y1="385.8" x2="243.20" y2="379.3" stroke="#1a1a1a" stroke-width="1.8"/>
<line x1="308.70" y1="385.8" x2="308.70" y2="379.3" stroke="#1a1a1a" stroke-width="1.8"/>
<line x1="374.20" y1="385.8" x2="374.20" y2="379.3" stroke="#1a1a1a" stroke-width="1.8"/>
<line x1="439.70" y1="385.8" x2="439.70" y2="379.3" stroke="#1a1a1a" stroke-width="1.8"/>
<line x1="505.20" y1="385.8" x2="505.20" y2="379.3" stroke="#1a1a1a" stroke-width="1.8"/>
<line x1="79.8" y1="345.0" x2="86.3" y2="345.0" stroke="#1a1a1a" stroke-width="1.8"/>
<line x1="79.8" y1="262.8" x2="86.3" y2="262.8" stroke="#1a1a1a" stroke-width="1.8"/>
<line x1="79.8" y1="180.4" x2="86.3" y2="180.4" stroke="#1a1a1a" stroke-width="1.8"/>
<line x1="79.8" y1="98.45" x2="86.3" y2="98.45" stroke="#1a1a1a" stroke-width="1.8"/>
<g font-family="'Liberation Serif', serif" stroke="#111" stroke-width="0.25" font-size="19.8" fill="#111">
<text x="112.60" y="409.3" text-anchor="middle">0</text>
<text x="178.10" y="409.3" text-anchor="middle">100</text>
<text x="243.60" y="409.3" text-anchor="middle">200</text>
<text x="309.10" y="409.3" text-anchor="middle">300</text>
<text x="374.60" y="409.3" text-anchor="middle">400</text>
<text x="440.10" y="409.3" text-anchor="middle">500</text>
<text x="505.60" y="409.3" text-anchor="middle">600</text>
<text x="72" y="351.20" text-anchor="end">0</text>
<text x="72" y="269.00" text-anchor="end">1000</text>
<text x="72" y="186.60" text-anchor="end">2000</text>
<text x="72" y="104.65" text-anchor="end">3000</text>
<text x="72" y="23.20" text-anchor="end">4000</text>
</g>
<text font-family="'Liberation Serif', serif" stroke="#111" stroke-width="0.25" font-size="21" fill="#111" x="309.5" y="442.2" text-anchor="middle">Time (min)</text>
<text font-family="'Liberation Serif', serif" stroke="#111" stroke-width="0.25" font-size="20.95" fill="#111" transform="translate(21.5,201.5) rotate(-90)" text-anchor="middle">Adsorption Capacity (mg/g)</text>
<g font-family="'Liberation Serif', serif" stroke="#111" stroke-width="0.25" font-size="19.3" fill="#111">
<text x="283.2" y="68.7">R<tspan font-size="12.3" dy="-7.2">2</tspan><tspan dy="7.2">=0.99272</tspan></text>
<text x="283.2" y="104.9">R<tspan font-size="12.3" dy="-7.2">2</tspan><tspan dy="7.2">=0.98055</tspan></text>
<text x="284.6" y="198.8">R<tspan font-size="12.3" dy="-7.2">2</tspan><tspan dy="7.2">=0.80692</tspan></text>
<text x="287.2" y="248.8">R<tspan font-size="12.3" dy="-7.2">2</tspan><tspan dy="7.2">=0.97381</tspan></text>
<text x="288.5" y="285.2">R<tspan font-size="12.3" dy="-7.2">2</tspan><tspan dy="7.2">=0.89578</tspan></text>
</g>
<rect x="395.2" y="279.2" width="118.2" height="89.3" fill="#fff" stroke="#333" stroke-width="1"/>
<rect x="408.95" y="285.25" width="7.9" height="7.9" fill="#4f4f4f"/>
<polygon points="412.90,300.90 418.30,309.90 407.50,309.90" fill="#0f6bdc"/>
<circle cx="412.90" cy="324.00" r="4.75" fill="#f83c3c"/>
<polygon points="412.90,347.30 418.30,338.50 407.50,338.50" fill="#12a35f"/>
<polygon points="412.90,353.55 418.20,359.00 412.90,364.45 407.60,359.00" fill="#b273e0"/>
<g font-family="'Liberation Serif', serif" stroke="#111" stroke-width="0.25" font-size="13.8" fill="#111">
<text x="432.6" y="294">CS-GO (10:1)</text>
<text x="432.6" y="311.3">CS-GO (3:5)</text>
<text x="432.6" y="328.7">CS-GO (1:5)</text>
<text x="432.6" y="346.1">GO</text>
<text x="432.6" y="363.6">GH</text>
</g>
</svg>
</body></html>
